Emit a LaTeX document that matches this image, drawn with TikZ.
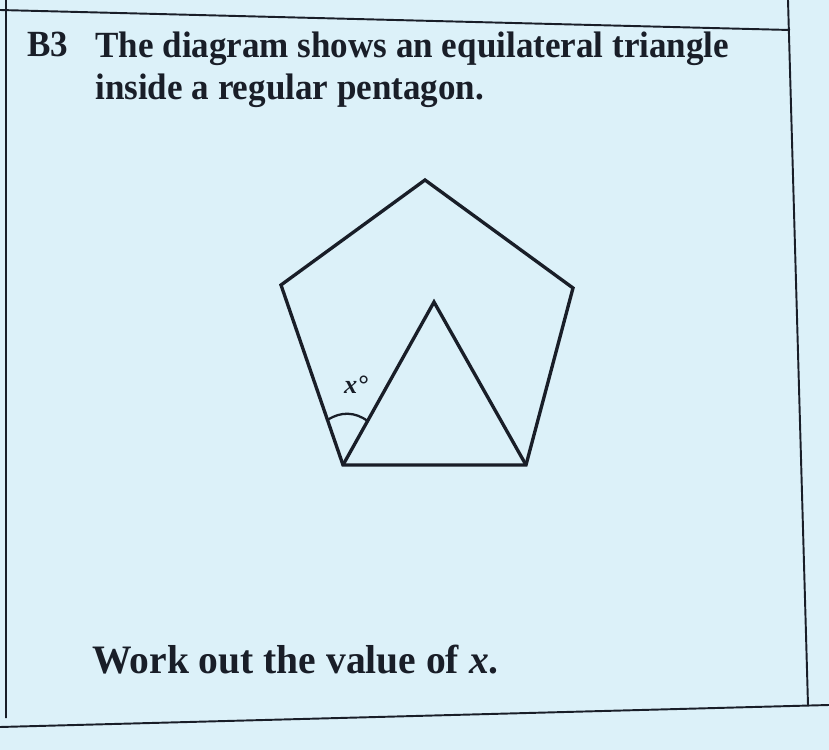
\documentclass[tikz,border=0pt]{standalone}
\usepackage{fontspec}
\setmainfont{Liberation Serif}
\usetikzlibrary{calc}
\definecolor{paper}{RGB}{220,241,249}
\definecolor{ink}{RGB}{25,30,40}
\tikzset{
  shape line/.style={ink, line width=1.9pt, line join=miter},
  frame line/.style={ink, line width=1.1pt},
  task text/.style={anchor=base west, inner sep=0pt, font=\fontsize{21}{25}\selectfont\bfseries, text=ink, xscale=0.95}
}
\begin{document}
\begin{tikzpicture}[x=0.02cm, y=-0.02cm]
      \fill [paper] (0, 0) rectangle (829, 750);
      \useasboundingbox (0, 0) rectangle (829, 750);
      % frame of the question
      \draw [frame line] (0, 10) -- (790, 30)
            (788, 0) -- (808, 705)
            (6, 0) -- (6, 718)
            (0, 727) -- (829, 705);
      % question text
      \node [task text] (qnum) at (27, 57) {B3};
      \node [task text] (line1) at (95, 58) {The diagram shows an equilateral triangle};
      \node [task text] (line2) at (95, 100) {inside a regular pentagon.};
      \node [task text, font=\fontsize{23}{27}\selectfont\bfseries, xscale=1.03] (task) at (92, 673) {Work out the value of \textit{x}.};
      % pentagon and triangle
      \coordinate (ptop) at (425, 180);
      \coordinate (pright) at (573, 288);
      \coordinate (pbr) at (526, 465);
      \coordinate (pbl) at (343, 465);
      \coordinate (pleft) at (281, 285);
      \coordinate (tapex) at (434, 302);
      \draw [shape line] (ptop) -- (pright) -- (pbr) -- (pbl) -- (pleft) -- cycle;
      \draw [shape line] (pbl) -- (tapex) -- (pbr);
      % angle x
      \coordinate (aone) at ($(pbl)!0.25!(pleft)$);
      \coordinate (atwo) at ($(pbl)!0.27!(tapex)$);
      \draw [ink, line width=1.3pt] (aone) to [bend left=35] (atwo);
      \node [ink, inner sep=0pt, font=\fontsize{15}{15}\selectfont\bfseries\itshape] (xlab) at (356, 385) {x°};
\end{tikzpicture}
\end{document}
